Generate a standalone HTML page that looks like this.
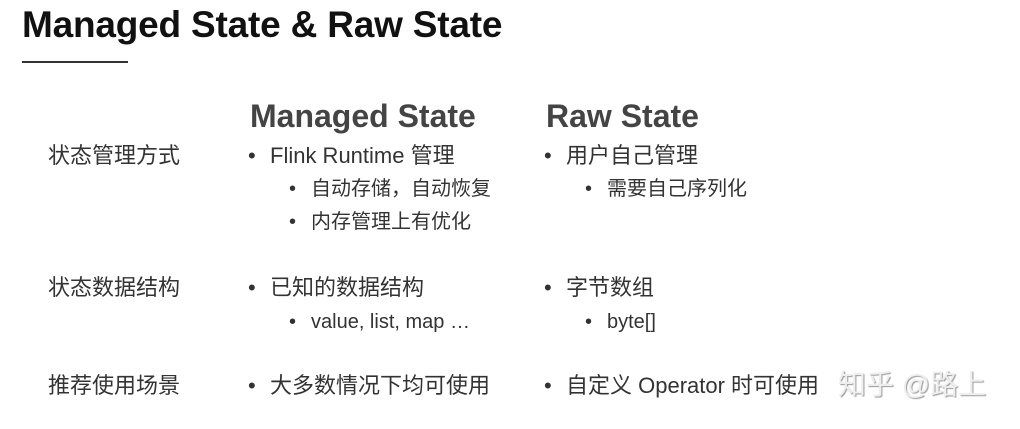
<!DOCTYPE html>
<html><head><meta charset="utf-8"><style>
body{margin:0;width:1020px;height:429px;background:#fff;position:relative;overflow:hidden;font-family:"Liberation Sans","Noto Sans CJK SC",sans-serif;color:#333}
.a{position:absolute;white-space:nowrap;line-height:1}
.t{font-size:37px;font-weight:bold;color:#111;letter-spacing:-0.2px}
.h{font-size:32px;font-weight:bold;color:#444}
.r{font-size:22px;color:#333}
.s{font-size:20px;color:#333}
.w{font-size:28px;color:#eee;text-shadow:1px 1px 1px #999}
</style></head><body>
<div class="a t" style="left:22px;top:6px">Managed State &amp; Raw State</div>
<div class="a" style="left:22px;top:61px;width:106px;height:2px;background:#333"></div>
<div class="a h" style="left:250px;top:100px">Managed State</div>
<div class="a h" style="left:546px;top:100px">Raw State</div>

<div class="a r" style="left:48px;top:145px">状态管理方式</div>
<div class="a r" style="left:248px;top:145px">•</div><div class="a r" style="left:270px;top:145px">Flink Runtime 管理</div>
<div class="a s" style="left:289px;top:179px">•</div><div class="a s" style="left:311px;top:179px">自动存储，自动恢复</div>
<div class="a s" style="left:289px;top:212px">•</div><div class="a s" style="left:311px;top:212px">内存管理上有优化</div>
<div class="a r" style="left:544px;top:145px">•</div><div class="a r" style="left:566px;top:145px">用户自己管理</div>
<div class="a s" style="left:585px;top:179px">•</div><div class="a s" style="left:607px;top:179px">需要自己序列化</div>

<div class="a r" style="left:48px;top:277px">状态数据结构</div>
<div class="a r" style="left:248px;top:277px">•</div><div class="a r" style="left:270px;top:277px">已知的数据结构</div>
<div class="a s" style="left:289px;top:312px">•</div><div class="a s" style="left:311px;top:312px">value, list, map …</div>
<div class="a r" style="left:544px;top:277px">•</div><div class="a r" style="left:566px;top:277px">字节数组</div>
<div class="a s" style="left:585px;top:312px">•</div><div class="a s" style="left:607px;top:312px">byte[]</div>

<div class="a r" style="left:48px;top:375px">推荐使用场景</div>
<div class="a r" style="left:248px;top:375px">•</div><div class="a r" style="left:270px;top:375px">大多数情况下均可使用</div>
<div class="a r" style="left:544px;top:375px">•</div><div class="a r" style="left:566px;top:375px">自定义 Operator 时可使用</div>
<div class="a w" style="left:838px;top:371px">知乎 @路上</div>
</body></html>
